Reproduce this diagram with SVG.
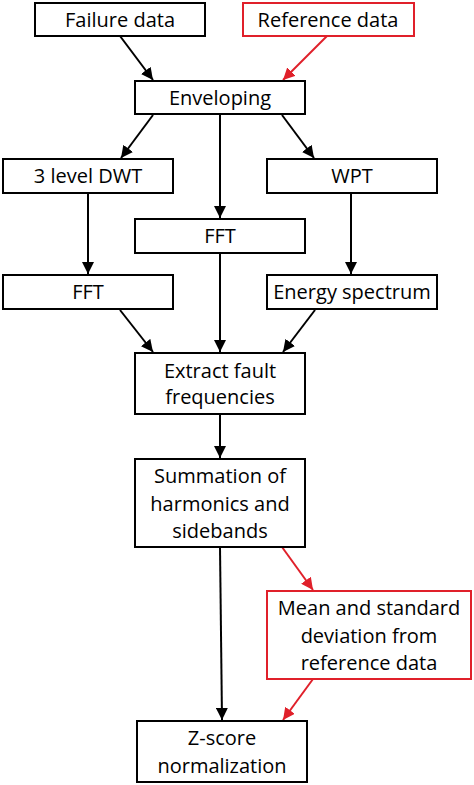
<svg xmlns="http://www.w3.org/2000/svg" width="474" height="785" viewBox="0 0 474 785">
<style>
.b{fill:#fff;stroke:#000;stroke-width:2}
.r{fill:#fff;stroke:#e0202a;stroke-width:2}
text{font-family:"Open Sans","Liberation Sans",sans-serif;font-size:20px;fill:#000;text-anchor:middle}
.k{stroke:#000;stroke-width:2;fill:none;marker-end:url(#ak)}
.kr{stroke:#e0202a;stroke-width:2;fill:none;marker-end:url(#ar)}
</style>
<defs>
<marker id="ak" viewBox="0 0 10 10" refX="10" refY="5" markerWidth="6" markerHeight="6" orient="auto" markerUnits="strokeWidth"><path d="M0,0L10,5L0,10z" fill="#000"/></marker>
<marker id="ar" viewBox="0 0 10 10" refX="10" refY="5" markerWidth="6" markerHeight="6" orient="auto" markerUnits="strokeWidth"><path d="M0,0L10,5L0,10z" fill="#e0202a"/></marker>
</defs>
<rect width="474" height="785" fill="#fff"/>
<g id="connectors">
<line class="k" x1="120" y1="36" x2="153" y2="80"/>
<line class="kr" x1="327" y1="36" x2="283" y2="80"/>
<line class="k" x1="153" y1="115" x2="121" y2="158"/>
<line class="k" x1="282" y1="115" x2="314" y2="158"/>
<line class="k" x1="220" y1="115" x2="220" y2="218"/>
<line class="k" x1="88" y1="193" x2="88" y2="274"/>
<line class="k" x1="351" y1="193" x2="351" y2="274"/>
<line class="k" x1="120" y1="310" x2="153" y2="352"/>
<line class="k" x1="315" y1="310" x2="283" y2="352"/>
<line class="k" x1="220" y1="253" x2="220" y2="352"/>
<line class="k" x1="220" y1="414" x2="220" y2="458"/>
<line class="k" x1="220" y1="547" x2="222" y2="720"/>
<line class="kr" x1="282" y1="547" x2="313" y2="590"/>
<line class="kr" x1="313" y1="679" x2="283" y2="720"/>
</g>
<g id="failure"><rect class="b" x="35" y="3" width="170" height="33"/><text x="120" y="27">Failure data</text></g>
<g id="reference"><rect class="r" x="243" y="3" width="171" height="33"/><text x="328" y="27">Reference data</text></g>
<g id="enveloping"><rect class="b" x="135" y="81" width="170" height="33"/><text x="220" y="105">Enveloping</text></g>
<g id="dwt"><rect class="b" x="3" y="159" width="170" height="34"/><text x="88" y="183">3 level DWT</text></g>
<g id="wpt"><rect class="b" x="267" y="159" width="170" height="34"/><text x="352" y="183">WPT</text></g>
<g id="fft-mid"><rect class="b" x="135" y="219" width="170" height="34"/><text x="220" y="243">FFT</text></g>
<g id="fft-left"><rect class="b" x="3" y="275" width="170" height="34"/><text x="88" y="299">FFT</text></g>
<g id="energy"><rect class="b" x="267" y="275" width="170" height="34"/><text x="352" y="299">Energy spectrum</text></g>
<g id="extract"><rect class="b" x="135" y="353" width="170" height="61"/><text x="220" y="378">Extract fault</text><text x="220" y="404">frequencies</text></g>
<g id="summation"><rect class="b" x="135" y="459" width="170" height="88"/><text x="220" y="483">Summation of</text><text x="220" y="511">harmonics and</text><text x="220" y="538">sidebands</text></g>
<g id="mean"><rect class="r" x="267" y="591" width="204" height="88"/><text x="369" y="615">Mean and standard</text><text x="369" y="643">deviation from</text><text x="369" y="670">reference data</text></g>
<g id="zscore"><rect class="b" x="137" y="721" width="170" height="61"/><text x="222" y="745">Z-score</text><text x="222" y="773">normalization</text></g>
</svg>
